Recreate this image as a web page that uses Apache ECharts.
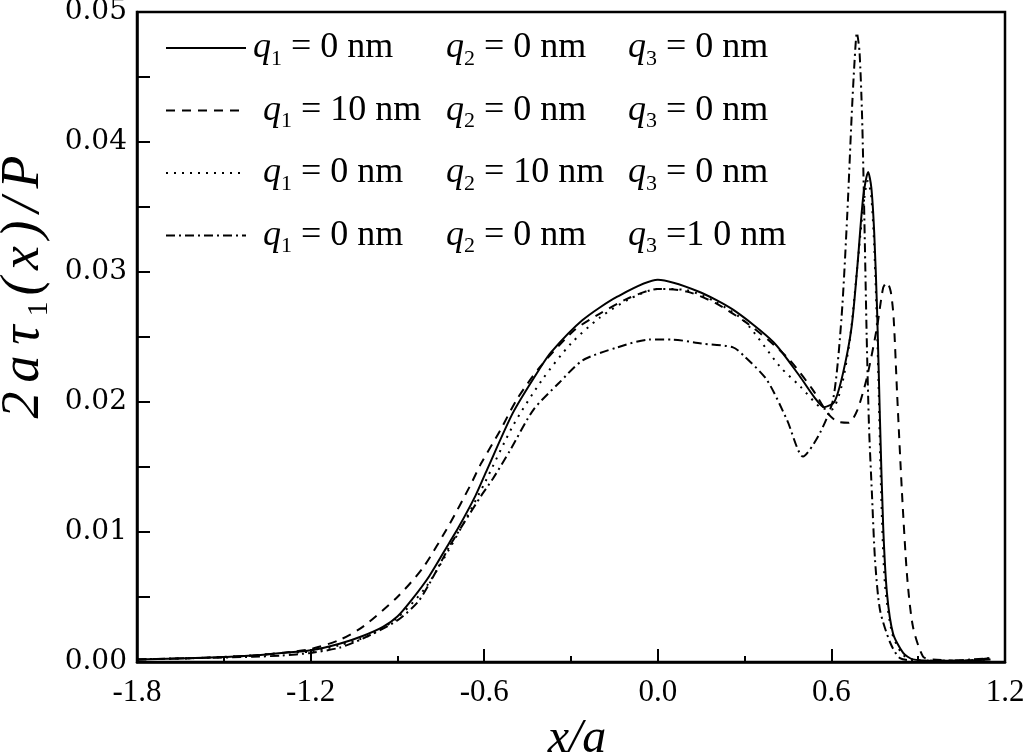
<!DOCTYPE html>
<html><head><meta charset="utf-8">
<script src="https://cdn.jsdelivr.net/npm/echarts@6/dist/echarts.min.js"></script>
<style>html,body{margin:0;padding:0;background:#fff}#c{width:1025px;height:755px}</style>
</head><body><div id="c"></div>
<script>
// ---- data ----
const seriesNames = ['q1=0,q2=0,q3=0', 'q1=10,q2=0,q3=0', 'q1=0,q2=10,q3=0', 'q1=0,q2=0,q3=10'];
const q1Text = [' = 0 nm', ' = 10 nm', ' = 0 nm', ' = 0 nm'];
const q2Text = [' = 0 nm', ' = 0 nm', ' = 10 nm', ' = 0 nm'];
const q3Text = [' = 0 nm', ' = 0 nm', ' = 0 nm', ' =1 0 nm'];

const xTickValues = [-1.8, -1.2, -0.6, 0.0, 0.6, 1.2];
const yTickValues = [0.00, 0.01, 0.02, 0.03, 0.04, 0.05];

// solid: q1=0, q2=0, q3=0
const solidX = [-1.8, -1.6, -1.4, -1.3, -1.2, -1.1, -1.02, -0.95, -0.9, -0.85, -0.79, -0.72, -0.69, -0.63, -0.59, -0.5, -0.41, -0.37, -0.26, -0.14, 0.0, 0.14, 0.26, 0.4, 0.49, 0.54, 0.575, 0.61, 0.64, 0.67, 0.69, 0.71, 0.727, 0.738, 0.748, 0.758, 0.768, 0.779, 0.792, 0.813, 0.848, 0.882, 0.95, 1.05, 1.15];
const solidY = [0.0002, 0.0003, 0.0005, 0.0007, 0.0009, 0.0014, 0.0020, 0.0027, 0.0035, 0.0048, 0.0066, 0.0092, 0.0103, 0.0128, 0.0148, 0.0192, 0.0225, 0.0238, 0.0263, 0.0281, 0.0294, 0.0285, 0.0271, 0.0246, 0.0220, 0.0204, 0.0196, 0.0200, 0.0222, 0.0258, 0.0305, 0.0358, 0.0377, 0.0365, 0.0330, 0.0270, 0.0185, 0.0104, 0.0053, 0.0022, 0.0007, 0.0002, 0.0001, 0.0001, 0.0002];

// dashed: q1=10
const dashX = [-1.8, -1.6, -1.4, -1.3, -1.2, -1.1, -1.02, -0.9, -0.81, -0.72, -0.65, -0.61, -0.545, -0.487, -0.407, -0.29, -0.2, -0.1, 0.0, 0.1, 0.2, 0.3, 0.38, 0.457, 0.537, 0.585, 0.62, 0.66, 0.69, 0.723, 0.758, 0.779, 0.792, 0.805, 0.815, 0.827, 0.844, 0.862, 0.882, 0.917, 0.95, 1.05, 1.15];
const dashY = [0.0002, 0.0003, 0.0005, 0.0007, 0.0010, 0.0017, 0.0027, 0.0050, 0.0073, 0.0106, 0.0135, 0.0153, 0.0178, 0.0202, 0.0227, 0.0255, 0.0268, 0.0280, 0.0287, 0.0285, 0.0276, 0.0262, 0.0248, 0.0232, 0.0209, 0.0192, 0.0185, 0.0184, 0.0194, 0.0219, 0.0258, 0.0288, 0.0292, 0.0285, 0.0265, 0.0207, 0.0130, 0.0065, 0.0027, 0.0004, 0.0002, 0.0001, 0.0003];

// dotted: q2=10
const dotX = [-1.8, -1.6, -1.4, -1.3, -1.2, -1.1, -1.0, -0.9, -0.8, -0.7, -0.6, -0.5, -0.4, -0.3, -0.2, -0.1, 0.0, 0.1, 0.2, 0.3, 0.423, 0.492, 0.561, 0.6, 0.635, 0.665, 0.69, 0.71, 0.725, 0.737, 0.748, 0.76, 0.772, 0.785, 0.81, 0.845, 0.88, 0.95, 1.05, 1.15];
const dotY = [0.0002, 0.0003, 0.0005, 0.0007, 0.0008, 0.0013, 0.0020, 0.0034, 0.0058, 0.0095, 0.0137, 0.0182, 0.0217, 0.0245, 0.0265, 0.0279, 0.0287, 0.0286, 0.0277, 0.0262, 0.0227, 0.0212, 0.0196, 0.0194, 0.0212, 0.0250, 0.0305, 0.0350, 0.0370, 0.0360, 0.0320, 0.0240, 0.0130, 0.0060, 0.0022, 0.0006, 0.0002, 0.0001, 0.0001, 0.0002];

// dash-dot: q3=10
const dashDotX = [-1.8, -1.6, -1.4, -1.3, -1.2, -1.1, -1.02, -0.9, -0.83, -0.79, -0.72, -0.67, -0.61, -0.57, -0.51, -0.43, -0.34, -0.26, -0.14, -0.03, 0.05, 0.15, 0.26, 0.3, 0.377, 0.447, 0.502, 0.56, 0.606, 0.635, 0.655, 0.67, 0.68, 0.688, 0.697, 0.706, 0.714, 0.722, 0.73, 0.74, 0.751, 0.768, 0.803, 0.837, 0.9, 1.0, 1.15];
const dashDotY = [0.0002, 0.0003, 0.0004, 0.0005, 0.0007, 0.0011, 0.0018, 0.0032, 0.0046, 0.0060, 0.0089, 0.0107, 0.0128, 0.0141, 0.0163, 0.0194, 0.0215, 0.0232, 0.0242, 0.0248, 0.0248, 0.0245, 0.0242, 0.0235, 0.0217, 0.0186, 0.0158, 0.0176, 0.0202, 0.0265, 0.0345, 0.0420, 0.0462, 0.0484, 0.0470, 0.0420, 0.0340, 0.0250, 0.0181, 0.0130, 0.0078, 0.0040, 0.0015, 0.0003, 0.0001, 0.0001, 0.0003];

// ---- chart ----
function zip(xs, ys) { return xs.map((x, i) => [x, ys[i]]); }
const serif = '"Liberation Serif", "Times New Roman", serif';
const main = { fontFamily: serif, fontSize: 36, lineHeight: 44, color: '#000' };
const rich = {
  p0: Object.assign({}, main, { width: 2 }),
  p1: Object.assign({}, main, { width: 12 }),
  q: Object.assign({}, main, { fontStyle: 'italic', width: 18 }),
  s: { fontFamily: serif, fontSize: 22, lineHeight: 22, verticalAlign: 'bottom', width: 11, color: '#000' },
  ta: Object.assign({}, main, { width: 164 }),
  tb: Object.assign({}, main, { width: 154 }),
  tc: Object.assign({}, main, { width: 153 }),
  td: Object.assign({}, main, {})
};
function legendLabel(i) {
  const pad = i === 0 ? '{p0| }' : '{p1| }';
  const c1 = i === 0 ? 'ta' : 'tb';
  return pad + '{q|q}{s|1}{' + c1 + '|' + q1Text[i] + '}' +
    '{q|q}{s|2}{tc|' + q2Text[i] + '}' +
    '{q|q}{s|3}{td|' + q3Text[i] + '}';
}

const yBase = { fontFamily: serif, fontStyle: 'italic', fontSize: 54, lineHeight: 60, align: 'center', color: '#000' };
const yRich = {
  d: Object.assign({}, yBase, { width: 36 }),
  a: Object.assign({}, yBase, { width: 36 }),
  t: Object.assign({}, yBase, { width: 32 }),
  s: { fontFamily: serif, fontSize: 30, lineHeight: 30, width: 20, align: 'center', verticalAlign: 'bottom', color: '#000' },
  o: Object.assign({}, yBase, { width: 25 }),
  x: Object.assign({}, yBase, { width: 32 }),
  l: Object.assign({}, yBase, { width: 24 }),
  P: Object.assign({}, yBase, { width: 42 })
};

const styles = [
  { type: 'solid', width: 2 },
  { type: [9, 7], width: 2 },
  { type: [2, 6], width: 2 },
  { type: [9, 4, 2, 4], width: 2 }
];
const xs = [solidX, dashX, dotX, dashDotX];
const ys = [solidY, dashY, dotY, dashDotY];

const chart = echarts.init(document.getElementById('c'), null, { renderer: 'canvas' });
chart.setOption({
  animation: false,
  backgroundColor: '#fff',
  grid: { left: 137, right: 20, top: 12, bottom: 93, show: true, borderColor: '#000', borderWidth: 2.5, backgroundColor: 'transparent', outerBoundsMode: 'none', containLabel: false },
  legend: {
    orient: 'vertical', left: 160, top: 21, itemWidth: 80, itemHeight: 14, itemGap: 18.5,
    selectedMode: false,
    itemStyle: { opacity: 0 },
    data: seriesNames,
    formatter: function (name) { return legendLabel(seriesNames.indexOf(name)); },
    textStyle: { rich: rich, color: '#000', lineHeight: 44, height: 44, padding: [0, 0, 0, 0] }
  },
  xAxis: {
    type: 'value', min: -1.8, max: 1.2, interval: 0.6,
    name: 'x/a', nameLocation: 'middle', nameGap: 53,
    nameTextStyle: { fontFamily: serif, fontStyle: 'italic', fontSize: 48, color: '#000', padding: [0, 0, 0, 12] },
    axisLine: { show: true, onZero: false, lineStyle: { color: '#000', width: 2.5 } },
    axisTick: { show: true, inside: true, length: 13, lineStyle: { color: '#000', width: 2 } },
    minorTick: { show: true, splitNumber: 2, length: 6, lineStyle: { color: '#000', width: 2 } },
    axisLabel: { margin: 15, fontFamily: serif, fontSize: 31, color: '#000', formatter: v => v.toFixed(1) },
    splitLine: { show: false }, minorSplitLine: { show: false }
  },
  yAxis: {
    type: 'value', min: 0, max: 0.05, interval: 0.01,
    name: '{d|2}{a|a}{t|τ}{s|1}{o|(}{x|x}{o|)}{l|/}{P|P}',
    nameLocation: 'middle', nameRotate: 90, nameGap: 78,
    nameTextStyle: { rich: yRich, color: '#000', padding: [0, 0, 0, 100] },
    axisLine: { show: true, onZero: false, lineStyle: { color: '#000', width: 2.5 } },
    axisTick: { show: true, inside: true, length: 13, lineStyle: { color: '#000', width: 2 } },
    minorTick: { show: true, splitNumber: 2, length: 13, lineStyle: { color: '#000', width: 2 } },
    axisLabel: { margin: 10, fontFamily: '"DejaVu Serif", serif', fontSize: 28, color: '#000', formatter: v => v.toFixed(2) },
    splitLine: { show: false }, minorSplitLine: { show: false }
  },
  series: seriesNames.map((n, i) => ({
    name: n, type: 'line', data: zip(xs[i], ys[i]),
    showSymbol: false, symbol: 'none', smooth: 0.25,
    lineStyle: { color: '#000', width: styles[i].width, type: styles[i].type },
    itemStyle: { color: '#000' }, emphasis: { disabled: true }
  }))
});
</script></body></html>
